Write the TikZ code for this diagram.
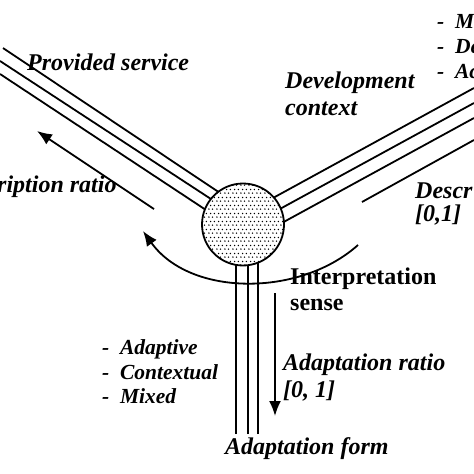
\documentclass[tikz,border=0pt]{standalone}
\usepackage{fontspec}
\setmainfont{Liberation Serif}
\usetikzlibrary{arrows.meta,patterns}
\tikzset{>={Latex[length=15pt,width=12pt]}}
\pgfdeclarepatternformonly{hubdots}{\pgfpointorigin}{\pgfpoint{8pt}{8pt}}{\pgfpoint{8pt}{8pt}}{
    \pgfpathcircle{\pgfpoint{1pt}{1pt}}{0.85pt}
    \pgfpathcircle{\pgfpoint{5pt}{1pt}}{0.85pt}
    \pgfpathcircle{\pgfpoint{3pt}{5pt}}{0.85pt}
    \pgfpathcircle{\pgfpoint{7pt}{5pt}}{0.85pt}
    \pgfusepath{fill}
}
\tikzset{
    band/.style={line width=1.8pt},
    lbl/.style={font=\fontsize{24}{24}\selectfont\bfseries\itshape, anchor=base west, inner sep=0pt},
    upl/.style={font=\fontsize{24}{24}\selectfont\bfseries, anchor=base west, inner sep=0pt},
    item/.style={font=\fontsize{21.5}{21.5}\selectfont\bfseries\itshape, anchor=base west, inner sep=0pt},
    hub/.style={circle, draw, line width=1.8pt, minimum size=82pt, inner sep=0pt,
        preaction={fill=white}, pattern=hubdots}
}
\newcommand{\rail}[3]{
    \coordinate (#1-out) at #2;
    \coordinate (#1-in) at #3;
    \draw[band] (#1-out) -- (#1-in);
}

\begin{document}
\begin{tikzpicture}[x=1pt,y=-1pt]
    \useasboundingbox (0,0) rectangle (474,474);
    \clip (0,0) rectangle (474,474);
    % provided service
    \rail{ps1}{(3,48)}{(220,193)}
    \rail{ps2}{(0,61)}{(214,201)}
    \rail{ps3}{(0,74)}{(206,210)}
    % development context
    \rail{dc1}{(474,88)}{(273,198)}
    \rail{dc2}{(474,103)}{(278,210)}
    \rail{dc3}{(474,118)}{(280,224)}
    % adaptation form
    \rail{af1}{(236,434)}{(236,262)}
    \rail{af2}{(248,434)}{(248,262)}
    \rail{af3}{(258,434)}{(258,260)}
    \node[hub] (core) at (243,224.5) {};
    % senses
    \coordinate (dl) at (154,209);
    \coordinate (dlt) at (37,131);
    \draw[band,->] (dl) -- (dlt);
    \coordinate (dr) at (362,202);
    \coordinate (drt) at (474,140);
    \draw[band] (dr) -- (drt);
    \coordinate (ar) at (275,293);
    \coordinate (art) at (275,416);
    \draw[band,->] (ar) -- (art);
    \coordinate (is) at (358,245);
    \coordinate (ist) at (143,231);
    \draw[band,->] (is) .. controls (300,297) and (190,297) .. (ist);
    % labels
    \node[lbl] (ps) at (27,70) {Provided service};
    \node[lbl] (dev) at (285,88) {Development};
    \node[lbl] (ctx) at (285,115) {context};
    \node[lbl] (dratl) at (-3,192) {ription ratio};
    \node[lbl] (dratr) at (415,198) {Descr};
    \node[lbl] (drngr) at (415,221) {[0,1]};
    \node[upl] (interp) at (290,284) {Interpretation};
    \node[upl] (sense) at (290,310) {sense};
    \node[lbl] (arat) at (283,370) {Adaptation ratio};
    \node[lbl] (arng) at (283,397) {[0, 1]};
    \node[lbl] (aform) at (225,454) {Adaptation form};
    \node[item] (ad) at (102,354) {-\enskip Adaptive};
    \node[item] (co) at (102,379) {-\enskip Contextual};
    \node[item] (mi) at (102,403) {-\enskip Mixed};
    \node[item] (tm) at (437,28) {-\enskip M};
    \node[item] (td) at (437,53) {-\enskip De};
    \node[item] (ta) at (437,78) {-\enskip Ac};
\end{tikzpicture}
\end{document}
